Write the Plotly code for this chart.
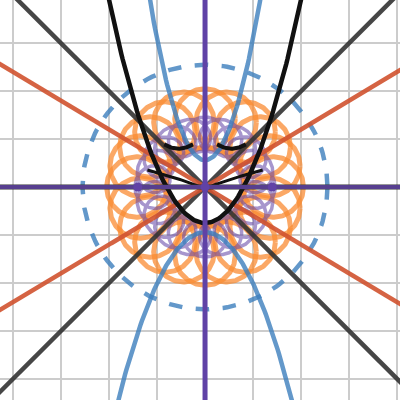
import numpy as np
import plotly.graph_objects as go

# curve parameters (grid units)
line_slopes_dark = [1.0, -1.0]
line_slopes_red = [0.6, -0.6]
parab_black = (1.16, -0.75)           # y = a x^2 + c
parab_blue_up = (2.53, 0.56)
parab_blue_down = (-1.07, -0.94)
dash_circle_r = 2.55
ring_count, ring_center_r, ring_r = 20, 1.42, 0.63
troch_R, troch_r, troch_n = 1.1, 0.36, 21

fig = go.Figure()
x = np.linspace(-5, 5, 400)

def add(xs, ys, color, width=4, dash=None, opacity=1.0):
    fig.add_trace(go.Scatter(x=xs, y=ys, mode="lines", opacity=opacity,
                             line=dict(color=color, width=width, dash=dash),
                             hoverinfo="skip"))

# orange ring of circles
t = np.linspace(0, 2 * np.pi, 200)
for k in range(ring_count):
    a = 2 * np.pi * k / ring_count
    add(ring_center_r * np.cos(a) + ring_r * np.cos(t),
        ring_center_r * np.sin(a) + ring_r * np.sin(t), "#fa8c33", 5, opacity=0.75)

# purple looping curve
tt = np.linspace(0, 2 * np.pi, 4000)
add(troch_R * np.cos(tt) + troch_r * np.cos(troch_n * tt),
    troch_R * np.sin(tt) + troch_r * np.sin(troch_n * tt), "#6042a6", 3.5, opacity=0.55)

# dashed circle
add(dash_circle_r * np.cos(t), dash_circle_r * np.sin(t), "#3d7fbd", 4.5, dash="dash", opacity=0.8)

for m in line_slopes_dark:
    add(x, m * x, "#333333", 4.5, opacity=0.9)
for m in line_slopes_red:
    add(x, m * x, "#d1532f", 4.5, opacity=0.9)

for a, c in [parab_blue_up, parab_blue_down]:
    add(x, a * x ** 2 + c, "#3d7fbd", 4.5, opacity=0.8)

a, c = parab_black
add(x, a * x ** 2 + c, "#111111", 4.5)
# face details
ex = np.linspace(-0.3, 0.3, 50)
for cx in [-0.55, 0.55]:
    add(ex + cx, 0.8 + 1.0 * ex ** 2, "#111111", 4)
sx = np.linspace(-1.2, 1.2, 100)
add(sx, 0.35 * np.abs(sx) ** 0.8 - 0.05, "#111111", 3)

add([-5, 5], [0, 0], "#333333", 5)
add([-5, 5], [0, 0], "#6042a6", 4, opacity=0.8)
add([0, 0], [-5, 5], "#6042a6", 5)
fig.add_trace(go.Scatter(x=[-1.4, 1.4, 0], y=[0, 0, 0], mode="markers",
                         marker=dict(color="#6042a6", size=9), hoverinfo="skip"))

ax = dict(showgrid=True, gridcolor="#cccccc", gridwidth=1.5, dtick=1,
          zeroline=False, showticklabels=False, fixedrange=True)
fig.update_xaxes(range=[-4.27, 4.06], **ax)
fig.update_yaxes(range=[-4.44, 3.9], **ax)
fig.update_layout(width=400, height=400, margin=dict(l=0, r=0, t=0, b=0),
                  showlegend=False, plot_bgcolor="white", paper_bgcolor="white")
fig.write_html("out.html", config={"displayModeBar": False},
               post_script="document.body.style.margin='0';document.body.style.overflow='hidden';")
